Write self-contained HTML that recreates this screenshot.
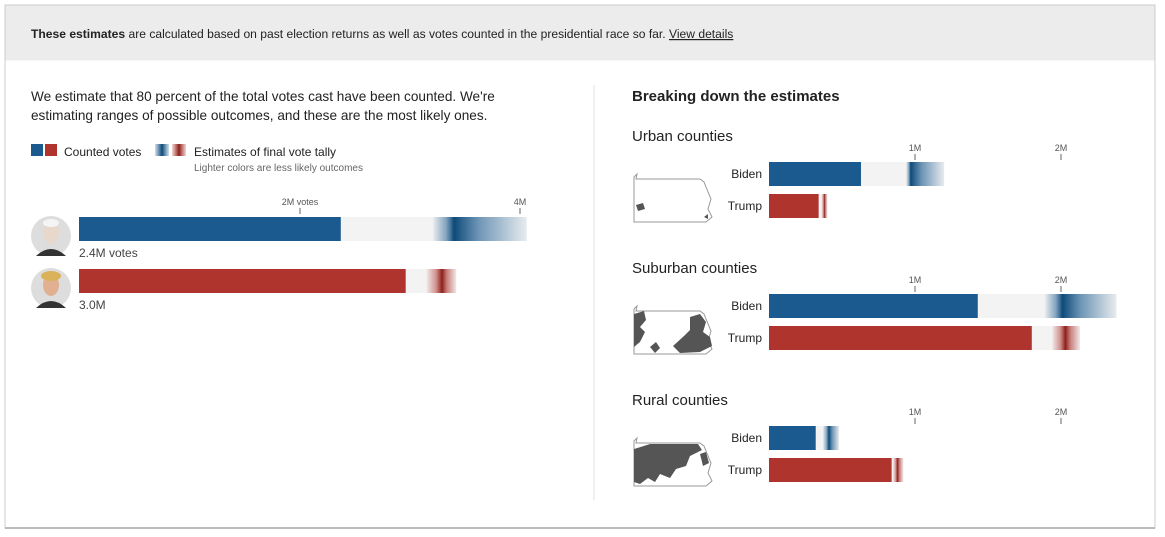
<!DOCTYPE html>
<html><head><meta charset="utf-8"><style>
body{margin:0;background:#fff;font-family:"Liberation Sans",Arial,sans-serif;}
svg{display:block}
</style></head><body>
<svg id="c" width="1165" height="537" xmlns="http://www.w3.org/2000/svg" font-family="Liberation Sans, Arial, sans-serif">
<defs id="defs"></defs>
<rect x="5" y="5" width="1150" height="523" fill="#fff" stroke="#ccc"/>
<rect x="5.5" y="5.5" width="1149" height="55" fill="#ececec"/>
<line x1="5" y1="528" x2="1155" y2="528" stroke="#bbb" stroke-width="2"/>
<text x="31" y="38" font-size="12.1" fill="#222"><tspan font-weight="bold">These estimates</tspan> are calculated based on past election returns as well as votes counted in the presidential race so far. <tspan text-decoration="underline">View details</tspan></text>
<line x1="594" y1="85" x2="594" y2="500" stroke="#e2e2e2"/>
<text x="31" y="101" font-size="13.6" fill="#222">We estimate that 80 percent of the total votes cast have been counted. We're</text>
<text x="31" y="120" font-size="13.6" fill="#222">estimating ranges of possible outcomes, and these are the most likely ones.</text>
<g>
<rect x="31" y="144" width="12" height="12" fill="#1a5a8f"/><rect x="45" y="144" width="12" height="12" fill="#b0342e"/>
<text x="64" y="156" font-size="12" fill="#222">Counted votes</text>
<rect x="155" y="144" width="14" height="12" fill="url(#lgB)"/><rect x="172" y="144" width="14" height="12" fill="url(#lgR)"/>
<text x="194" y="156" font-size="12" fill="#222">Estimates of final vote tally</text>
<text x="194" y="171" font-size="10" fill="#666">Lighter colors are less likely outcomes</text>
</g>
<text x="632" y="101" font-size="15" font-weight="bold" fill="#222">Breaking down the estimates</text>
<g id="maps"></g>
<g id="plot"></g>
</svg>
<script>
// main (statewide) data, millions
const mainCandidates=["Biden","Trump"];
const mainCounted=[2.38,2.97];
const mainLow=[3.22,3.16];
const mainMid=[3.41,3.30];
const mainHigh=[4.07,3.43];
const mainLabels=["2.4M votes","3.0M"];
const mainTicks=[2,4];
const mainTickLabels=["2M votes","4M"];
// regional data
const regions=["Urban counties","Suburban counties","Rural counties"];
const regCounted=[[0.63,0.34],[1.43,1.80],[0.32,0.84]];
const regLow=[[0.94,0.36],[1.89,1.94],[0.37,0.85]];
const regMid=[[0.97,0.38],[2.01,2.03],[0.41,0.88]];
const regHigh=[[1.20,0.40],[2.38,2.13],[0.48,0.92]];
const regTicks=[1,2];
const regTickLabels=["1M","2M"];

const NS="http://www.w3.org/2000/svg";
const svg=document.getElementById('c'),defs=document.getElementById('defs'),plot=document.getElementById('plot');
const BLUE="#1a5a8f",DBLUE="#0d4a78",RED="#b0342e",DRED="#8a1f1a";
function el(t,a,p){const e=document.createElementNS(NS,t);for(const k in a)e.setAttribute(k,a[k]);(p||plot).appendChild(e);return e;}
let gid=0;
function grad(col,dark,lo,mid,hi){
 const id='g'+(gid++);const g=el('linearGradient',{id:id,x1:0,x2:1,y1:0,y2:0},defs);
 const f=(mid-lo)/((hi-lo)||1);
 [[0,col,0.05],[f*0.6,col,0.5],[f,dark,1],[f+(1-f)*0.35,col,0.6],[1,col,0.05]].forEach(s=>el('stop',{offset:s[0],'stop-color':s[1],'stop-opacity':s[2]},g));
 return id;}
function legendGrad(id,col,dark){const g=el('linearGradient',{id:id,x1:0,x2:1,y1:0,y2:0},defs);
 [[0,col,0.2],[0.5,dark,1],[1,col,0.2]].forEach(s=>el('stop',{offset:s[0],'stop-color':s[1],'stop-opacity':s[2]},g));}
legendGrad('lgB',BLUE,DBLUE);legendGrad('lgR',RED,DRED);

function drawBar(x0,scale,y,h,c,lo,mid,hi,col,dark,name){
 const x=v=>x0+v*scale;
 const r=el('rect',{x:x(c),y:y,width:x(hi)-x(c),height:h,fill:'#f3f3f3'});
 
 
 const b=el('rect',{x:x0,y:y,width:x(c)-x0,height:h,fill:col});
 
 
 const e=el('rect',{x:x(lo),y:y,width:x(hi)-x(lo),height:h,fill:'url(#'+grad(col,dark,lo,mid,hi)+')'});
 
 
}
function ticks(x0,scale,y,vals,labels,name){
 vals.forEach((v,i)=>{const x=x0+v*scale;
  const l=el('line',{x1:x,x2:x,y1:y-6,y2:y,stroke:'#666'});
  
  
  const t=el('text',{x:x,y:y-9,'font-size':9,fill:'#555','text-anchor':'middle'});t.textContent=labels[i];
  
  });}

// main chart
const MX=80,MS=110;
ticks(MX,MS,214,mainTicks,mainTickLabels,'main-axis');
const cols=[[BLUE,DBLUE],[RED,DRED]];
mainCandidates.forEach((n,i)=>{
 const y=217+i*52;
 drawBar(MX-1,MS,y,24,mainCounted[i],mainLow[i],mainMid[i],mainHigh[i],cols[i][0],cols[i][1],'main-'+n.toLowerCase());
 const a=el('circle',{cx:51,cy:y+19,r:20,fill:'#ddd'});
 
 
 el('ellipse',{cx:51,cy:y+16,rx:8,ry:11,fill:i?'#e0b090':'#e8d8cc'});
 if(i)el('ellipse',{cx:51,cy:y+7,rx:10,ry:5,fill:'#d9b25a'});else el('ellipse',{cx:51,cy:y+6,rx:8,ry:4,fill:'#f4f4f4'});
 el('path',{d:`M36 ${y+39} Q51 ${y+25} 66 ${y+39} Z`,fill:'#333'});
 const t=el('text',{x:79,y:y+40,'font-size':12,fill:'#444'});t.textContent=mainLabels[i];
 
 
});

// regional
const RX=769,RS=146;
regions.forEach((r,k)=>{
 const top=132*k;
 const t=el('text',{x:632,y:141+top,'font-size':15,fill:'#222'});t.textContent=r;
 
 
 ticks(RX,RS,160+top,regTicks,regTickLabels,'region-axis');
 mainCandidates.forEach((n,i)=>{
  const y=162+top+i*32;
  const l=el('text',{x:762,y:y+16,'font-size':12,fill:'#222','text-anchor':'end'});l.textContent=n;
  
  
  drawBar(RX,RS,y,24,regCounted[k][i],regLow[k][i],regMid[k][i],regHigh[k][i],cols[i][0],cols[i][1],'region-'+n.toLowerCase());
 });
});
// maps
const maps=document.getElementById('maps');
const pa="M634 177 L637 174 L636 179 L700 179 L704 182 L706 187 L711 199 L708 209 L712 217 L706 222 L634 222 Z";
[0,132,264].forEach((dy,k)=>{
 const g=el('g',{transform:`translate(0,${dy})`},maps);
 
 
 el('path',{d:pa,fill:'#fff',stroke:'#999','stroke-width':1},g);
 if(k==0){el('path',{d:"M636 205 L643 203 L645 209 L638 211 Z",fill:'#555'},g);el('path',{d:"M704 217 L708 214 L708 219 Z",fill:'#555'},g);}
 if(k==1){el('path',{d:"M634 182 L644 179 L646 188 L640 195 L645 200 L640 210 L634 215 Z",fill:'#555'},g);
  el('path',{d:"M690 185 L700 182 L706 190 L703 200 L710 205 L712 214 L700 220 L680 221 L673 214 L684 204 L690 198 Z",fill:'#555'},g);
  el('path',{d:"M650 215 L656 210 L660 216 L655 221 Z",fill:'#555'},g);}
 if(k==2){el('path',{d:"M634 185 L650 180 L698 180 L702 186 L690 192 L686 202 L676 205 L670 214 L660 210 L655 218 L648 214 L640 220 L634 218 Z",fill:'#555'},g);
  el('path',{d:"M700 190 L706 188 L709 199 L703 202 Z",fill:'#555'},g);}
});
</script>
</body></html>
